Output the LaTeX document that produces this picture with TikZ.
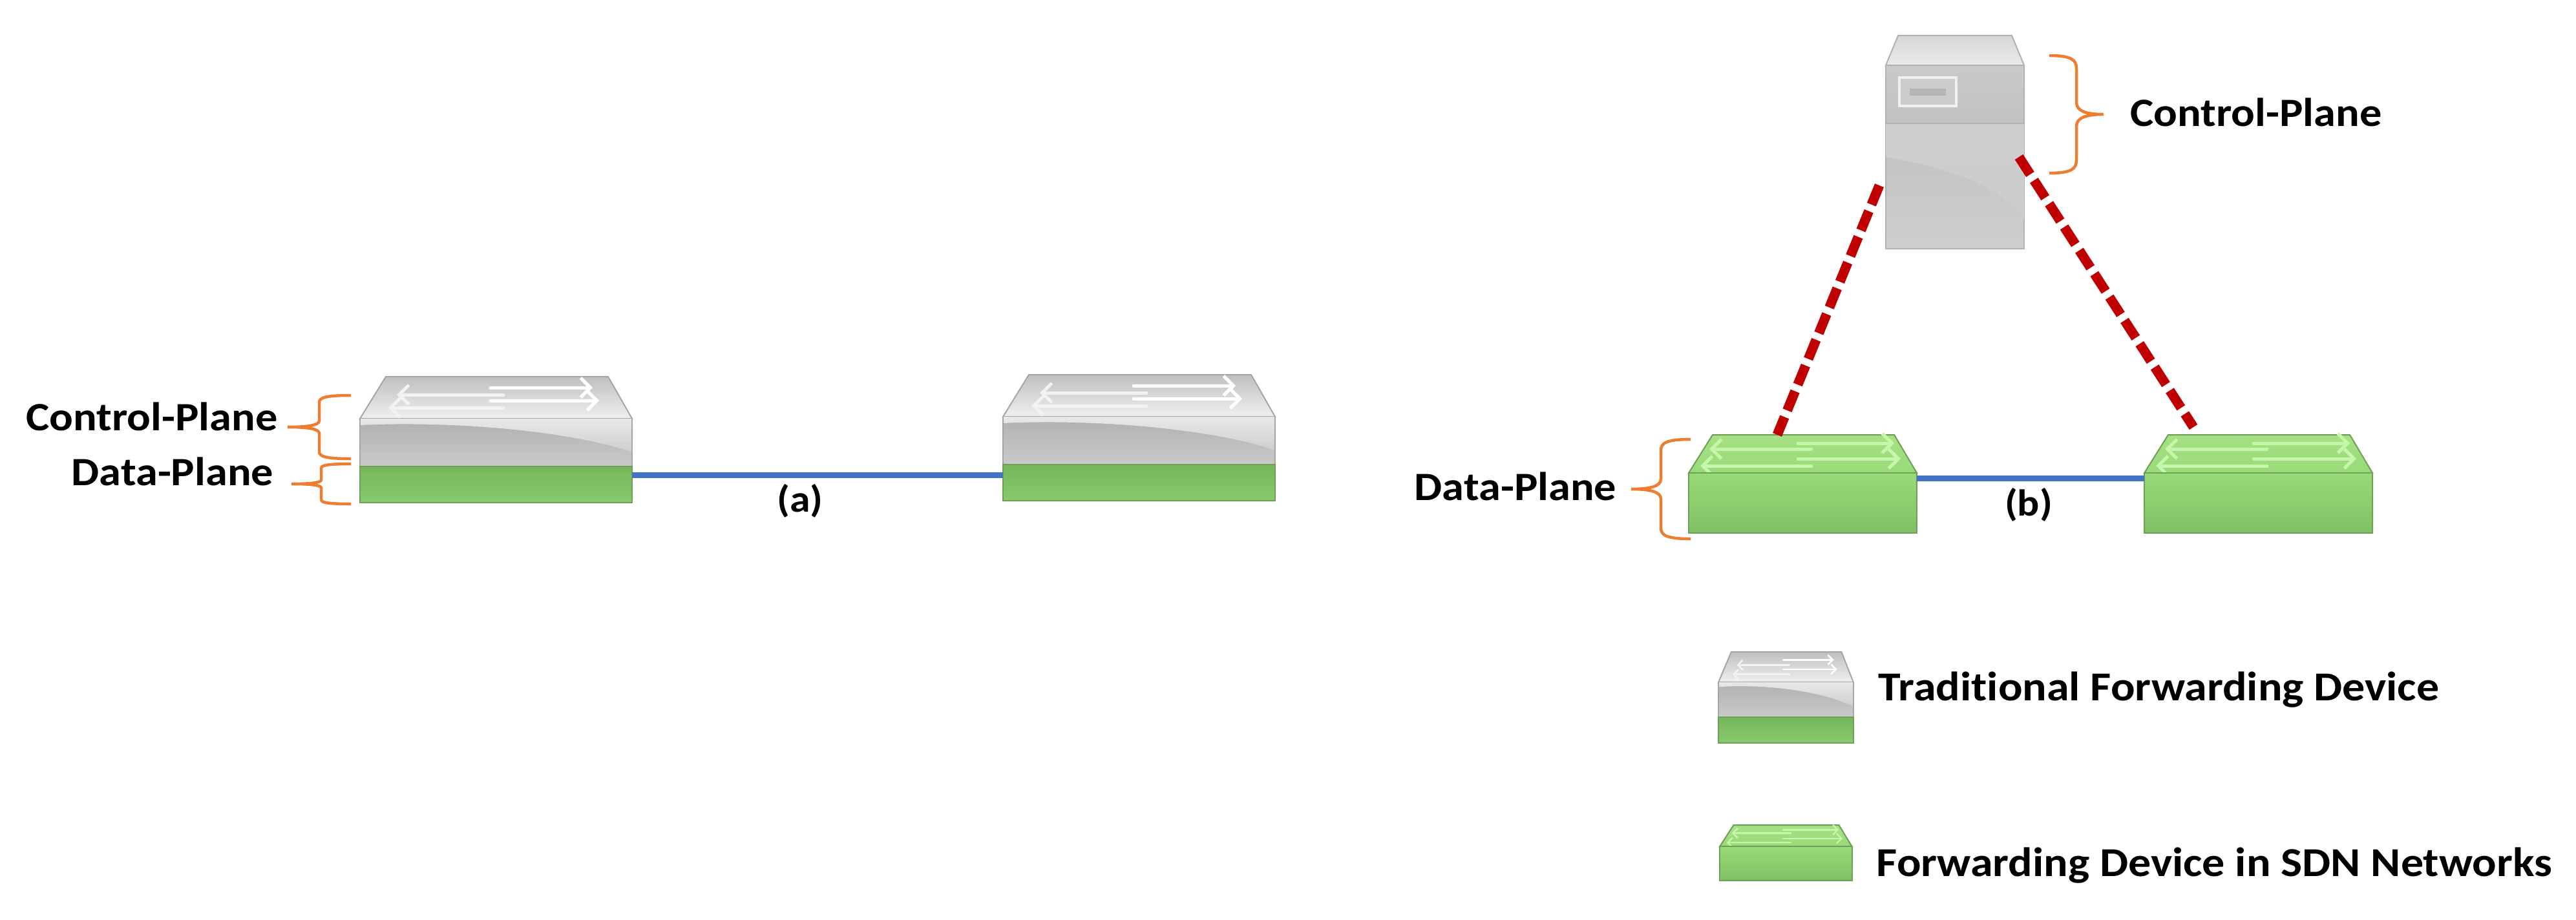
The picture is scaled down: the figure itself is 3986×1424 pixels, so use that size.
\documentclass[tikz,border=0pt]{standalone}
\usepackage{fontspec}
\setmainfont[FakeStretch=1.1, Ligatures=NoCommon]{Carlito}
\usetikzlibrary{arrows.meta}

\definecolor{bracecol}{HTML}{ED7D31}
\definecolor{linkcol}{HTML}{4472C4}
\definecolor{ctrlcol}{HTML}{C00000}
\definecolor{greentop}{HTML}{A6E184}
\definecolor{greenhi}{HTML}{98DA78}
\definecolor{greenlo}{HTML}{80C064}
\definecolor{greenline}{HTML}{6E9F58}
\definecolor{greenarrow}{HTML}{C6F5AC}
\definecolor{datahi}{HTML}{74B658}
\definecolor{datalo}{HTML}{88CA6C}

\begin{document}
\begin{tikzpicture}[
        x=0.01cm,
        y=-0.01cm,
        planelabel/.style={font=\bfseries\fontsize{17.7}{20}\selectfont, text=black, inner sep=0pt},
        legendlabel/.style={font=\bfseries\fontsize{18.1}{20}\selectfont, text=black, inner sep=0pt},
        caselabel/.style={font=\bfseries\fontsize{16.5}{18}\selectfont, text=black, inner sep=0pt},
        datalink/.style={draw=linkcol, line width=0.09cm},
        ctrllink/.style={draw=ctrlcol, line width=0.15cm, dash pattern=on 0.32cm off 0.11cm},
        planebrace/.style={draw=bracecol, line width=0.045cm},
        toparrow/.style={-{Straight Barb[length=0pt 3 0, width=0pt 6 0]}, line width=#1, line cap=round},
        edge/.style={draw=#1, line width=0.02cm},
        % brace, tip at the local origin, opening to the right
        bracepic/.pic={
            \draw[planebrace] (1,-1) .. controls (0.6,-1) and (0.5,-0.93) .. (0.5,-0.78) -- (0.5,-0.2)
                .. controls (0.5,-0.05) and (0.3,0) .. (0,0)
                .. controls (0.3,0) and (0.5,0.05) .. (0.5,0.2) -- (0.5,0.78)
                .. controls (0.5,0.93) and (0.6,1) .. (1,1);
        },
        % device with both planes, 421 x 195
        tradsw/.pic={
            \path[edge=gray!70, top color=gray!50, middle color=gray!22, bottom color=gray!12]
                (40,0) -- (384,0) -- (421,65) -- (0,65) -- cycle;
            \draw[toparrow=#1, draw=white] (202,17) -- (360,17);
            \draw[toparrow=#1, draw=white] (202,37) -- (370,37);
            \draw[toparrow=#1, draw=white!90!gray] (222,28) -- (57,28);
            \draw[toparrow=#1, draw=white!90!gray] (222,48) -- (44,48);
            \path[bottom color=gray!42!white, top color=gray!62!white] (0,65) rectangle (421,139);
            \path[top color=gray!18, bottom color=gray!38]
                (0,65) -- (421,65) -- (421,117) .. controls (330,85) and (150,68) .. (0,75) -- cycle;
            \path[edge=gray!70] (0,65) -- (0,139) (421,65) -- (421,139);
            \path[edge=greenline, top color=datahi, bottom color=datalo]
                (0,139) rectangle (421,195);
        },
        % device with the data plane only, 353 x 152
        greensw/.pic={
            \path[edge=greenline, top color=greentop, bottom color=greenhi]
                (37,0) -- (318,0) -- (353,59) -- (0,59) -- cycle;
            \draw[toparrow=#1, draw=greenarrow] (169,13) -- (318,13);
            \draw[toparrow=#1, draw=greenarrow] (169,37) -- (328,37);
            \draw[toparrow=#1, draw=greenarrow] (190,22) -- (32,22);
            \draw[toparrow=#1, draw=greenarrow] (190,48) -- (18,48);
            \path[edge=greenline, top color=greenhi, bottom color=greenlo]
                (0,59) rectangle (353,152);
        },
        % controller box, 214 x 330
        serverbox/.pic={
            \path[edge=gray!60, top color=gray!32, bottom color=gray!16]
                (19,0) -- (195,0) -- (214,46) -- (0,46) -- cycle;
            \path[edge=gray!60, top color=gray!42, bottom color=gray!48] (0,46) rectangle (214,136);
            \draw[draw=gray!12, line width=0.04cm, fill=gray!40] (21,65) rectangle (109,109);
            \fill[gray!58] (37,82) rectangle (93,93);
            \path[edge=gray!60, top color=gray!50, bottom color=gray!38] (0,136) rectangle (214,330);
            \path[top color=gray!38, bottom color=gray!40]
                (0,137) -- (214,137) -- (214,284) .. controls (170,225) and (90,205) .. (0,188) -- cycle;
        }
    ]

        \useasboundingbox (0,0) rectangle (3986,1424);

        % (a) devices
        \pic at (557,583) {tradsw=0.05cm};
        \pic at (1552,580) {tradsw=0.05cm};

        % (b) devices
        \pic at (2918,55) {serverbox};
        \pic at (2613,673) {greensw=0.05cm};
        \pic at (3318,673) {greensw=0.05cm};

        % legend devices
        \pic[xscale=0.496, yscale=0.723] at (2659,1009) {tradsw=0.025cm};
        \pic[xscale=0.58, yscale=0.566] at (2661,1277) {greensw=0.025cm};

        % link ends
        \coordinate (portaleft) at (978,735);
        \coordinate (portaright) at (1552,735);
        \coordinate (portbleft) at (2966,740);
        \coordinate (portbright) at (3318,740);
        \coordinate (serverleft) at (2908,287);
        \coordinate (serverright) at (3124,243);
        \coordinate (greenleft) at (2750,673);
        \coordinate (greenright) at (3394,661);

        % links
        \draw[datalink] (portaleft) -- (portaright);
        \draw[datalink] (portbleft) -- (portbright);
        \draw[ctrllink] (serverleft) -- (greenleft);
        \draw[ctrllink] (serverright) -- (greenright);

        % braces
        \pic[xscale=98, yscale=49] at (445,661) {bracepic};
        \pic[xscale=92, yscale=31] at (451,749) {bracepic};
        \pic[xscale=92, yscale=77] at (2524,757) {bracepic};
        \pic[xscale=-84, yscale=91] at (3255,177) {bracepic};

        % plane labels
        \node[planelabel] (ctrla) at (235,645) {Control-Plane};
        \node[planelabel] (dataa) at (267,730) {Data-Plane};
        \node[planelabel] (ctrlb) at (3491,174) {Control-Plane};
        \node[planelabel] (datab) at (2345,753) {Data-Plane};

        % case labels
        \node[caselabel] (casea) at (1238,775) {(a)};
        \node[caselabel] (caseb) at (3139,781) {(b)};

        % legend labels
        \node[legendlabel, anchor=west] (legtrad) at (2906,1068) {Traditional Forwarding Device};
        \node[legendlabel, anchor=west] (leggreen) at (2903,1340) {Forwarding Device in SDN Networks};

    \end{tikzpicture}
\end{document}
